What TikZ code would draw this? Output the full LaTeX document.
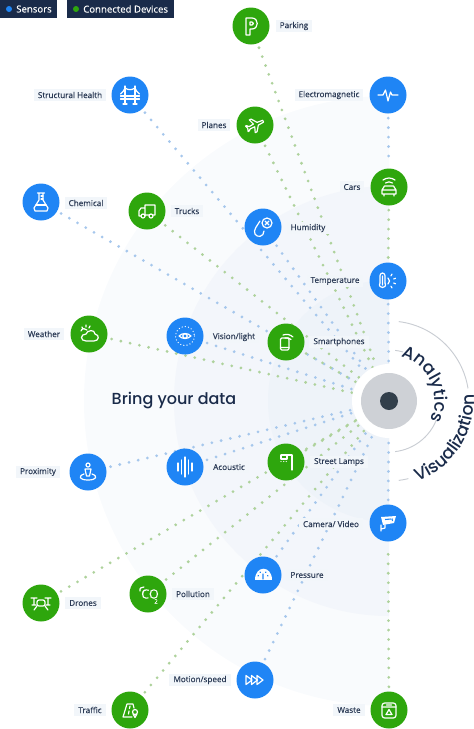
\documentclass[tikz,border=0pt]{standalone}
\usepackage{fontspec}
\setmainfont{Open Sans}[UprightFeatures={FakeBold=0.25}]
\newfontfamily\headfont{Poppins}[UprightFont=* Medium]
\usetikzlibrary{backgrounds,decorations.text}
\definecolor{sensorblue}{HTML}{1F85F5}
\definecolor{devicegreen}{HTML}{2EA60D}
\definecolor{navybox}{HTML}{1A2B4A}
\definecolor{tagfill}{HTML}{F2F6FA}
\definecolor{tagtext}{HTML}{2B3A55}
\definecolor{sensordot}{HTML}{A6C7EC}
\definecolor{devicedot}{HTML}{AED29C}
\definecolor{discouter}{HTML}{F9FBFD}
\definecolor{discmid}{HTML}{F3F6FB}
\definecolor{discinner}{HTML}{EEF3F9}
\definecolor{hubgray}{HTML}{CED1D6}
\definecolor{hubdark}{HTML}{323F4B}
\definecolor{ringgray}{HTML}{C9CDD3}
\tikzset{
  sensor/.style={circle,fill=sensorblue,minimum size=27.75pt,inner sep=0pt,outer sep=3.5pt},
  device/.style={circle,fill=devicegreen,minimum size=27.75pt,inner sep=0pt,outer sep=3.5pt},
  tag/.style={fill=tagfill,text=tagtext,font=\fontsize{6.1}{7}\selectfont,inner xsep=3pt,inner ysep=0pt,minimum height=9pt},
  legendtext/.style={text=white,font=\fontsize{7.2}{8}\selectfont,inner sep=0pt,anchor=west},
  sensorlink/.style={sensordot,line width=2.3pt,line cap=round,dash pattern=on 0pt off 7.1pt},
  devicelink/.style={devicedot,line width=2.3pt,line cap=round,dash pattern=on 0pt off 7.1pt},
  ringline/.style={ringgray,line width=0.7pt},
  iconline/.style={white,line width=0.9pt,line cap=round,line join=round},
  % icons, in pixels of the picture
  iconparking/.pic={
    \draw[iconline] (-5,9) -- (-5,-8) -- (1,-8) .. controls (8,-8) and (8,3) .. (1,3) -- (-1,3) -- (-1,9) -- cycle;
    \draw[iconline] (-1,-4) -- (1,-4) .. controls (3,-4) and (3,-1) .. (1,-1) -- (-1,-1) -- cycle;},
  iconbridge/.pic={
    \draw[iconline] (-5,-9) -- (-5,8) (5,-9) -- (5,8) (-9.5,1) -- (9.5,1) (-9.5,4) -- (9.5,4) (-7,9) -- (-3,9) (3,9) -- (7,9);
    \draw[iconline] (-5,-7) to[bend right=35] (5,-7) (-9.5,-1) to[bend right=15] (-5,-7) (5,-7) to[bend right=15] (9.5,-1);},
  iconpulse/.pic={
    \draw[iconline] (-10,0) -- (-5,0) -- (-2.5,-5) -- (0,6) -- (2.5,-3) -- (4,0) -- (10,0);},
  iconplane/.pic={
    \draw[iconline,rotate=25] (9,-1) -- (3,-1.5) -- (-1,-7) -- (-3,-7) -- (-1,-1.5) -- (-6,-1) -- (-8,-3) -- (-9,-3) -- (-8,0) -- (-9,3) -- (-8,3) -- (-6,1.5) -- (-1,1.5) -- (-3,7) -- (-1,7) -- (3,1.5) -- (9,1) -- cycle;},
  iconcar/.pic={
    \draw[iconline] (-7,7) -- (-7,3) -- (-4.5,-1) -- (4.5,-1) -- (7,3) -- (7,7) -- cycle (-5,7) -- (-5,9) (5,7) -- (5,9) (-7,3) -- (7,3);
    \draw[iconline] (-3.5,-4) to[bend left=35] (3.5,-4) (-6,-7) to[bend left=35] (6,-7);},
  iconflask/.pic={
    \draw[iconline] (-3.5,-9) -- (3.5,-9) (-2,-9) -- (-2,-2) -- (-7,6) -- (-6,9) -- (6,9) -- (7,6) -- (2,-2) -- (2,-9);
    \draw[iconline] (0,-6) -- (2,-6) (0,-3) -- (2,-3) (-5,3) -- (5,3);},
  icontruck/.pic={
    \draw[iconline] (-2,4) -- (-2,-6) -- (8,-6) -- (8,4) -- cycle (-2,-3) -- (-6,-3) -- (-8,0) -- (-8,5) -- (-2,5);
    \draw[iconline,fill=devicegreen] (-4,5) circle (2) (4,5) circle (2);},
  icondrop/.pic={
    \draw[iconline] (-3,-6) .. controls (-6,-1) and (-10,3) .. (-8,7) .. controls (-6,11) and (1,10) .. (1,4);
    \draw[iconline] (4,-4) circle (5) (2,-6) -- (6,-2) (6,-6) -- (2,-2);},
  iconthermo/.pic={
    \draw[iconline,rounded corners=2] (-8,2) -- (-8,-8) -- (-3,-8) -- (-3,2);
    \draw[iconline] (-8,2) .. controls (-11,8) and (0,8) .. (-3,2) (-5.5,-5) -- (-5.5,4) (0,-3) to[bend left=60] (0,3);
    \foreach \a in {-60,-20,20,60} \draw[iconline] (\a:6) -- (\a:8);},
  iconphone/.pic={
    \draw[iconline,rounded corners=1] (-5.5,-4) rectangle (3,8);
    \draw[iconline] (-5.5,5.5) -- (3,5.5) (-3,-7) to[bend left=30] (7,-5) (-1,-4) to[bend left=30] (5,-2.5);},
  iconeye/.pic={
    \draw[iconline] (-6,0) to[bend left=45] (6,0) to[bend left=45] (-6,0) (0,0) circle (2.2);
    \draw[iconline,dash pattern=on 0pt off 2.4pt,line width=1pt] (0,0) circle (9.5);},
  iconcloud/.pic={
    \draw[iconline] (-3,7) .. controls (-9,7) and (-9,0) .. (-3,0) .. controls (-2,-4) and (6,-5) .. (6,0) .. controls (11,1) and (10,7) .. (5,7) -- cycle;
    \draw[iconline] (-8,-3) .. controls (-7,-6) and (-4,-6) .. (-2,-4) (-7,-7) -- (-6,-5) (-3,-9) -- (-3,-7) (1,-8) -- (0,-6);},
  iconwave/.pic={
    \foreach \x/\h in {-7/4,-3.5/7,0/10,3.5/7,7/4} \draw[iconline] (\x,-\h) -- (\x,\h);},
  iconlamp/.pic={
    \draw[iconline] (-5,-7) -- (6,-7) -- (6,8) (-5,-7) -- (-5,-3) -- (1,-3) -- (1,-7);
    \draw[iconline,dash pattern=on 0pt off 2pt] (-5,-0.5) -- (1.5,-0.5);},
  iconperson/.pic={
    \draw[iconline] (0,-7) circle (2) (-3,-3) -- (3,-3) -- (1.5,4) -- (-1.5,4) -- cycle;
    \draw[iconline] (-4,2) .. controls (-10,4) and (-9,8) .. (0,8) .. controls (9,8) and (10,4) .. (4,2);},
  iconcamera/.pic={
    \fill[white] (-7,-6) -- (8,-7) -- (6,0) -- (-5,2) -- cycle;
    \draw[iconline] (-3,2) -- (-3,5) -- (-7,6) (-7,2) -- (-7,8);
    \draw[sensorblue,line width=0.8pt] (-3,-3.5) -- (3,-4) (4,-4.5) -- (4.5,-2);},
  icongauge/.pic={
    \fill[white] (-8.5,5) .. controls (-8.5,-10) and (8.5,-10) .. (8.5,5) -- cycle;
    \draw[sensorblue,line width=0.9pt,line cap=round] (0,4) -- (0,-1) (-5,1) -- (-4.5,0.5) (5,1) -- (4.5,0.5) (-3,-3) -- (-2.5,-2.5) (3,-3) -- (2.5,-2.5);},
  icondrone/.pic={
    \draw[iconline,rounded corners=1.5] (-4,-3) rectangle (4,3);
    \draw[iconline] (-10,-5) -- (-4,-5) (4,-5) -- (10,-5) (-7,-5) -- (-7,2) (7,-5) -- (7,2) (-9,2) -- (-5,2) (5,2) -- (9,2) (-4,3) -- (-7,7) (4,3) -- (7,7);},
  iconcotwo/.pic={
    \node[text=white,font=\fontsize{9.5}{10}\selectfont,inner sep=0pt] (cotext) at (2,0) {CO};
    \node[text=white,font=\fontsize{4.5}{5}\selectfont,inner sep=0pt] (twotext) at (8,7.5) {2};
    \draw[iconline] (-8,-3) .. controls (-9,-6) and (-6,-7) .. (-4,-7);},
  iconarrows/.pic={
    \foreach \x in {-9,-3.5,2} \draw[iconline] (\x,-4.5) -- (\x,4.5) -- (\x+6,0) -- cycle;},
  iconroad/.pic={
    \draw[iconline] (-7,7) -- (-3,-6) -- (3,-6) -- (4,-2) (-7,7) -- (2,7) (0,-4) -- (-0.5,-1.5) (-1,1) -- (-1.5,4);
    \draw[iconline] (5,2) circle (2.5) (2.8,3.5) -- (5,7.5) -- (7.2,3.5);},
  iconbin/.pic={
    \draw[iconline,rounded corners=2] (-7,-7) rectangle (7,8);
    \draw[iconline] (-7,-3) -- (7,-3) (-2.5,-5) -- (2.5,-5) (-3,4.5) -- (3,4.5) -- (0,-0.5) -- cycle;},
}
\begin{document}
\begin{tikzpicture}[x=0.75pt,y=-0.75pt]
  \useasboundingbox (0,0) rectangle (474,729);
  % legend
  \fill[navybox] (0,0) rectangle (57,18);
  \fill[navybox] (67,0) rectangle (174,18);
  \fill[sensorblue] (9,9) circle (3);
  \fill[devicegreen] (76,9) circle (3);
  \node[legendtext] (sensorsitem) at (16,9) {Sensors};
  \node[legendtext] (devicesitem) at (83,9) {Connected Devices};
  % centre
  \node[circle,fill=white,minimum size=55.5pt,inner sep=0pt] (hub) at (389,401) {};
  \node[circle,fill=hubgray,minimum size=42pt,inner sep=0pt] (hubring) at (hub) {};
  \node[circle,fill=hubdark,minimum size=13.5pt,inner sep=0pt] (hubcore) at (hub) {};
  % sensors
  \node[sensor] (structural) at (130,95) {};
  \node[sensor] (electromagnetic) at (388,95) {};
  \node[sensor] (chemical) at (41,202) {};
  \node[sensor] (humidity) at (263,227) {};
  \node[sensor] (temperature) at (388,281) {};
  \node[sensor] (vision) at (185,336) {};
  \node[sensor] (acoustic) at (185,467) {};
  \node[sensor] (proximity) at (88,472) {};
  \node[sensor] (camera) at (388,523) {};
  \node[sensor] (pressure) at (263,575) {};
  \node[sensor] (motion) at (255,680) {};
  % connected devices
  \node[device] (parking) at (251,26) {};
  \node[device] (planes) at (255,125) {};
  \node[device] (cars) at (389,187) {};
  \node[device] (trucks) at (147,211) {};
  \node[device] (smartphones) at (286,342) {};
  \node[device] (weather) at (89,334) {};
  \node[device] (lamps) at (286,462) {};
  \node[device] (drones) at (41,603) {};
  \node[device] (pollution) at (148,594) {};
  \node[device] (traffic) at (130,710) {};
  \node[device] (waste) at (389,710) {};
  % icons
  \pic at (structural) {iconbridge};
  \pic at (electromagnetic) {iconpulse};
  \pic at (chemical) {iconflask};
  \pic at (humidity) {icondrop};
  \pic at (temperature) {iconthermo};
  \pic at (vision) {iconeye};
  \pic at (acoustic) {iconwave};
  \pic at (proximity) {iconperson};
  \pic at (camera) {iconcamera};
  \pic at (pressure) {icongauge};
  \pic at (motion) {iconarrows};
  \pic at (parking) {iconparking};
  \pic at (planes) {iconplane};
  \pic at (cars) {iconcar};
  \pic at (trucks) {icontruck};
  \pic at (smartphones) {iconphone};
  \pic at (weather) {iconcloud};
  \pic at (lamps) {iconlamp};
  \pic at (drones) {icondrone};
  \pic at (pollution) {iconcotwo};
  \pic at (traffic) {iconroad};
  \pic at (waste) {iconbin};
  % labels
  \node[tag] (structurallabel) at (70,95) {Structural Health};
  \node[tag] (parkinglabel) at (294,26) {Parking};
  \node[tag] (electrolabel) at (329,95) {Electromagnetic};
  \node[tag] (planeslabel) at (214,125) {Planes};
  \node[tag] (carslabel) at (352,187) {Cars};
  \node[tag] (chemicallabel) at (86,203) {Chemical};
  \node[tag] (truckslabel) at (187,211) {Trucks};
  \node[tag] (humiditylabel) at (308,228) {Humidity};
  \node[tag] (temperaturelabel) at (335,281) {Temperature};
  \node[tag] (smartphoneslabel) at (339,342) {Smartphones};
  \node[tag] (visionlabel) at (234,337) {Vision/light};
  \node[tag] (weatherlabel) at (44,334) {Weather};
  \node[tag] (proximitylabel) at (38,472) {Proximity};
  \node[tag] (acousticlabel) at (229,467) {Acoustic};
  \node[tag] (lampslabel) at (339,462) {Street Lamps};
  \node[tag] (cameralabel) at (331,524) {Camera/ Video};
  \node[tag] (pressurelabel) at (307,575) {Pressure};
  \node[tag] (droneslabel) at (83,603) {Drones};
  \node[tag] (pollutionlabel) at (193,594) {Pollution};
  \node[tag] (motionlabel) at (200,680) {Motion/speed};
  \node[tag] (trafficlabel) at (90,710) {Traffic};
  \node[tag] (wastelabel) at (349,710) {Waste};
  \node[text=navybox,font=\headfont\fontsize{12}{14}\selectfont,inner sep=0pt] (title) at (174,401) {Bring your data};
  \begin{scope}[on background layer]
    % half discs
    \begin{scope}
      \clip (0,0) rectangle (389,729);
      \fill[discouter] (hub) circle (305);
      \fill[discmid] (hub) circle (215);
      \fill[discinner] (hub) circle (121);
    \end{scope}
    % sensor links
    \draw[sensorlink] (structural) -- (hub);
    \draw[sensorlink] (electromagnetic) -- (cars);
    \draw[sensorlink] (chemical) -- (hub);
    \draw[sensorlink] (humidity) -- (hub);
    \draw[sensorlink] (temperature) -- (hub);
    \draw[sensorlink] (vision) -- (hub);
    \draw[sensorlink] (acoustic) -- (hub);
    \draw[sensorlink] (proximity) -- (hub);
    \draw[sensorlink] (camera) -- (hub);
    \draw[sensorlink] (pressure) -- (hub);
    \draw[sensorlink] (motion) -- (hub);
    % device links
    \draw[devicelink] (parking) -- (hub);
    \draw[devicelink] (planes) -- (hub);
    \draw[devicelink] (cars) -- (temperature);
    \draw[devicelink] (trucks) -- (hub);
    \draw[devicelink] (smartphones) -- (hub);
    \draw[devicelink] (weather) -- (hub);
    \draw[devicelink] (lamps) -- (hub);
    \draw[devicelink] (drones) -- (hub);
    \draw[devicelink] (pollution) -- (hub);
    \draw[devicelink] (traffic) -- (hub);
    \draw[devicelink] (waste) -- (camera);
  \end{scope}
  % rings on the right
  \begin{scope}[shift={(hub.center)},y=0.75pt]
    \draw[ringline] (83:51) arc (83:74:51);
    \draw[ringline] (-22:51) arc (-22:-83:51);
    \draw[ringline] (83:80) arc (83:9:80);
    \draw[ringline] (-83:80) arc (-83:-76:80);
    \path[decorate,decoration={text along path,text align=center,text color=navybox,
      text={|\headfont\fontsize{13}{15}\selectfont|Analytics}}] (70:46) arc (70:-20:46);
    \path[decorate,decoration={text along path,text align=center,text color=navybox,
      text={|\headfont\fontsize{13}{15}\selectfont|Visualization}}] (-76:85) arc (-76:10:85);
  \end{scope}
\end{tikzpicture}
\end{document}
